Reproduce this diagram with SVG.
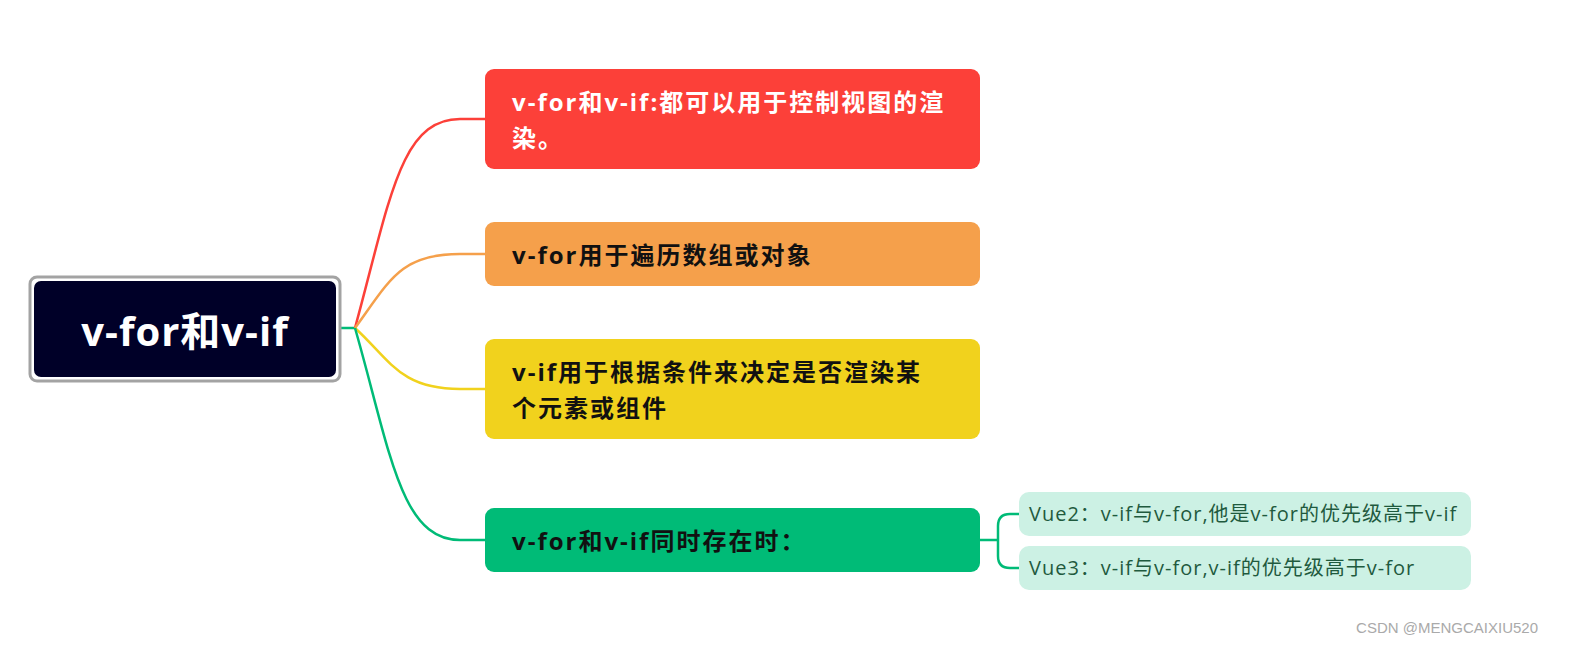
<svg xmlns="http://www.w3.org/2000/svg" width="1586" height="651" viewBox="0 0 1586 651">
<style>
.t{font-family:"Open Sans","Noto Sans CJK SC",sans-serif;font-weight:bold;font-size:24px;letter-spacing:2px}
.s{font-family:"Open Sans","Noto Sans CJK SC",sans-serif;font-size:20px;letter-spacing:1px;fill:#1f5a3e}
.c{fill:none;stroke-width:2.5}
</style>
<rect width="1586" height="651" fill="#fff"/>
<g id="connectors">
<path class="c" stroke="#00bb77" d="M340 328 H355"/>
<path class="c" stroke="#fc4039" d="M355 328 C390 200 400 119 460 119 H486"/>
<path class="c" stroke="#f5a04b" d="M355 328 C390 280 400 254 460 254 H486"/>
<path class="c" stroke="#f1d21d" d="M355 328 C390 360 400 389 460 389 H486"/>
<path class="c" stroke="#00bb77" d="M355 328 C390 450 400 540 460 540 H486"/>
<path class="c" stroke="#00bb77" d="M980 540 H998 M1020 514 H1010 Q998 514 998 526 V556 Q998 568 1010 568 H1020"/>
</g>
<g id="root"><rect x="30" y="277" width="310" height="104" rx="7" fill="#fff" stroke="#a3a3a3" stroke-width="3"/><rect x="34" y="281" width="302" height="96" rx="7" fill="#000028"/><text class="t" x="185" y="346" fill="#fff" text-anchor="middle" style="font-size:40px;letter-spacing:1px">v-for和v-if</text></g>
<g id="n1"><rect x="485" y="69" width="495" height="100" rx="9" fill="#fc4039"/><text class="t" fill="#fff" x="512" y="111">v-for和v-if:都可以用于控制视图的渲</text><text class="t" fill="#fff" x="512" y="147">染。</text></g>
<g id="n2"><rect x="485" y="222" width="495" height="64" rx="9" fill="#f5a04b"/><text class="t" fill="#111" x="512" y="264">v-for用于遍历数组或对象</text></g>
<g id="n3"><rect x="485" y="339" width="495" height="100" rx="9" fill="#f1d21d"/><text class="t" fill="#111" x="512" y="381">v-if用于根据条件来决定是否渲染某</text><text class="t" fill="#111" x="512" y="417">个元素或组件</text></g>
<g id="n4"><rect x="485" y="508" width="495" height="64" rx="9" fill="#00bb77"/><text class="t" fill="#111" x="512" y="550">v-for和v-if同时存在时：</text></g>
<g id="n5"><rect x="1019" y="492" width="452" height="44" rx="10" fill="#ccf1e4"/><text class="s" x="1029" y="521">Vue2：v-if与v-for,他是v-for的优先级高于v-if</text></g>
<g id="n6"><rect x="1019" y="546" width="452" height="44" rx="10" fill="#ccf1e4"/><text class="s" x="1029" y="575">Vue3：v-if与v-for,v-if的优先级高于v-for</text></g>
<text x="1538" y="633" text-anchor="end" font-family="Liberation Sans,sans-serif" font-size="15" fill="#aaa">CSDN @MENGCAIXIU520</text>
</svg>
